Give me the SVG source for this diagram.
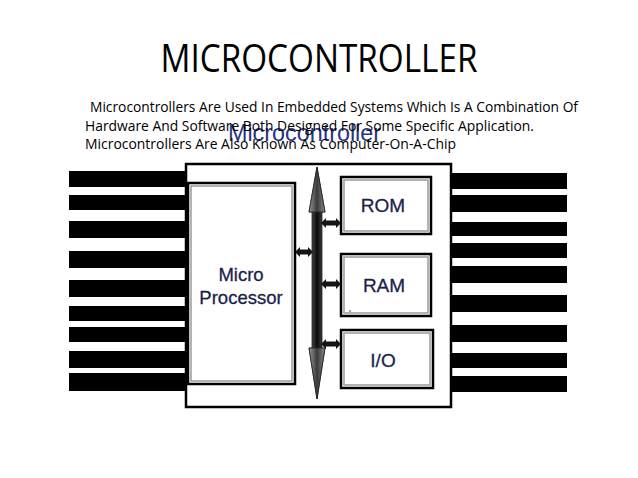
<svg xmlns="http://www.w3.org/2000/svg" width="638" height="478" viewBox="0 0 638 478">
<defs>
<style>
.pin{fill:#000}
.box{fill:#fff;stroke:#000;stroke-width:2.5}
.inner{fill:none;stroke:#9a9a9a;stroke-width:1.5}
.lbl{font-family:"Liberation Sans",Arial,sans-serif;fill:#1b1f4b;text-anchor:middle;stroke:#1b1f4b;stroke-width:0.3}
.body{font-family:"Open Sans","Noto Sans",sans-serif;font-size:14.5px;fill:#000}
.conn{fill:#151515}
</style>
<linearGradient id="busg" x1="0" y1="0" x2="1" y2="0">
<stop offset="0" stop-color="#666"/>
<stop offset="0.5" stop-color="#0a0a0a"/>
<stop offset="1" stop-color="#555"/>
</linearGradient>
<linearGradient id="headg" x1="0" y1="0" x2="1" y2="0">
<stop offset="0" stop-color="#999"/>
<stop offset="0.5" stop-color="#3a3a3a"/>
<stop offset="1" stop-color="#888"/>
</linearGradient>
</defs>
<rect width="638" height="478" fill="#fff"/>

<text x="319" y="72" font-family="'Open Sans','Noto Sans',sans-serif" font-size="38" text-anchor="middle" textLength="317" lengthAdjust="spacingAndGlyphs">MICROCONTROLLER</text>

<g id="pins-left">
<rect class="pin" x="69" y="171" width="117" height="16"/>
<rect class="pin" x="69" y="195" width="117" height="15"/>
<rect class="pin" x="69" y="221" width="117" height="17"/>
<rect class="pin" x="69" y="251" width="117" height="17"/>
<rect class="pin" x="69" y="280" width="117" height="17"/>
<rect class="pin" x="69" y="306" width="117" height="15"/>
<rect class="pin" x="69" y="327" width="117" height="15"/>
<rect class="pin" x="69" y="351" width="117" height="17"/>
<rect class="pin" x="69" y="373" width="117" height="18"/>
</g>
<g id="pins-right">
<rect class="pin" x="450" y="173" width="117" height="16"/>
<rect class="pin" x="450" y="195" width="117" height="17"/>
<rect class="pin" x="450" y="222" width="117" height="14"/>
<rect class="pin" x="450" y="243" width="117" height="15"/>
<rect class="pin" x="450" y="266" width="117" height="17"/>
<rect class="pin" x="450" y="295" width="117" height="17"/>
<rect class="pin" x="450" y="325" width="117" height="17"/>
<rect class="pin" x="450" y="353" width="117" height="15"/>
<rect class="pin" x="450" y="376" width="117" height="16"/>
</g>

<g id="chip">
<rect x="186" y="164" width="265" height="243" fill="#fff" stroke="#000" stroke-width="2.5"/>
</g>

<g id="microprocessor">
<rect class="box" x="188" y="183" width="107" height="201"/>
<rect class="inner" x="191" y="186" width="101" height="195"/>
<text class="lbl" x="241" y="281" font-size="18.5">Micro</text>
<text class="lbl" x="241" y="304" font-size="18.5">Processor</text>
</g>

<g id="rom">
<rect class="box" x="341" y="177" width="90" height="57"/>
<rect class="inner" x="344" y="180" width="84" height="51"/>
<text class="lbl" x="383" y="212" font-size="19">ROM</text>
</g>
<g id="ram">
<rect class="box" x="341" y="254" width="90" height="62"/>
<rect class="inner" x="344" y="257" width="84" height="56"/>
<text class="lbl" x="384" y="292" font-size="19">RAM</text>
<circle cx="350" cy="311" r="0.8" fill="#333"/>
</g>
<g id="io">
<rect class="box" x="341" y="330" width="92" height="58"/>
<rect class="inner" x="344" y="333" width="86" height="52"/>
<text class="lbl" x="383" y="367" font-size="19">I/O</text>
</g>

<g id="connectors">
<path d="M317 167 L325 212 L322 212 L322 348 L325 348 L317 399 L309 348 L312 348 L312 212 L309 212 Z" fill="url(#busg)" stroke="#222" stroke-width="0.8"/>
<path d="M317 167 L325 212 L309 212 Z M317 399 L309 348 L325 348 Z" fill="url(#headg)" stroke="#222" stroke-width="0.8"/>
<path class="conn" d="M295 252 L300 247 L300 249.5 L308 249.5 L308 247 L313 252 L308 257 L308 254.5 L300 254.5 L300 257 Z"/>
<path class="conn" d="M321 223 L326 218 L326 220.5 L336 220.5 L336 218 L341 223 L336 228 L336 225.5 L326 225.5 L326 228 Z"/>
<path class="conn" d="M321 284 L326 279 L326 281.5 L336 281.5 L336 279 L341 284 L336 289 L336 286.5 L326 286.5 L326 289 Z"/>
<path class="conn" d="M321 344 L326 339 L326 341.5 L336 341.5 L336 339 L341 344 L336 349 L336 346.5 L326 346.5 L326 349 Z"/>
</g>

<text x="228" y="141" font-family="'Liberation Sans',Arial,sans-serif" font-size="24" fill="#2a347e" textLength="153" lengthAdjust="spacingAndGlyphs">Microcontroller</text>

<g id="description">
<text class="body" x="90" y="112" textLength="488" lengthAdjust="spacingAndGlyphs">Microcontrollers Are Used In Embedded Systems Which Is A Combination Of</text>
<text class="body" x="85" y="131" textLength="449" lengthAdjust="spacingAndGlyphs">Hardware And Software Both Designed For Some Specific Application.</text>
<text class="body" x="85" y="149" textLength="371" lengthAdjust="spacingAndGlyphs">Microcontrollers Are Also Known As Computer-On-A-Chip</text>
</g>
</svg>
